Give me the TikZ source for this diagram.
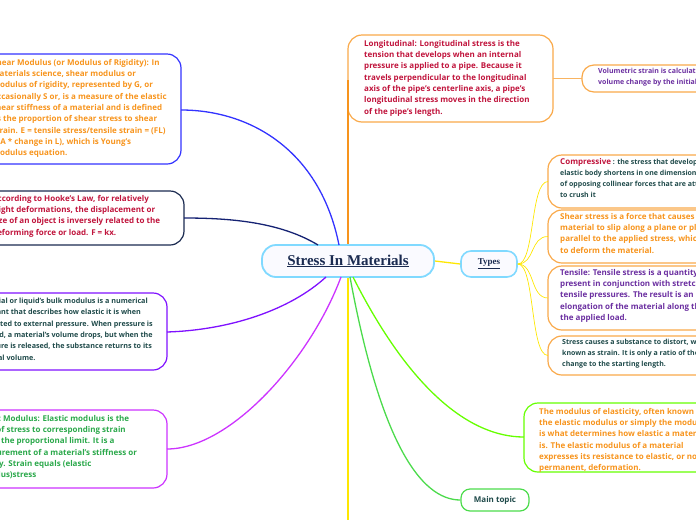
\documentclass[tikz,border=0pt]{standalone}
\usepackage{fontspec}
\setmainfont{Open Sans}
\usetikzlibrary{calc}
\definecolor{corg}{HTML}{F7941D}
\definecolor{ccrim}{HTML}{C0143C}
\definecolor{cpurp}{HTML}{6B2FA0}
\definecolor{cteal}{HTML}{1F4A4A}
\definecolor{cgreen}{HTML}{2AA84A}
\definecolor{cnavy}{HTML}{1A2A50}
\definecolor{cmag}{HTML}{CC33FF}
\definecolor{cvio}{HTML}{7F11FF}
\tikzset{
 box/.style={draw, line width=1.2pt, rounded corners=14pt, inner sep=0pt},
 txt/.style={anchor=north west, align=left, inner sep=0pt, font=\bfseries\fontsize{8}{11.3}\selectfont},
 br/.style={line width=1.3pt},
 sub/.style={line width=0.7pt},
}
\begin{document}
\begin{tikzpicture}[x=1pt,y=-1pt]
\useasboundingbox (0,0) rectangle (696,520);
\clip (0,0) rectangle (696,520);
% boxes
\draw[box, draw=blue!80] (-40,54) rectangle (181,164);
\coordinate (sbe) at (181,110);
\draw[box, draw=cnavy] (-40,191) rectangle (184,245);
\coordinate (hbe) at (184,218);
\draw[box, draw=cvio] (-40,293) rectangle (167,370);
\coordinate (bbe) at (167,332);
\draw[box, draw=cmag] (-40,410) rectangle (167,488);
\coordinate (ebe) at (167,449);
\draw[box, draw=corg!80] (348,35) rectangle (553,122);
\coordinate (lbe) at (553,78);
\draw[box, draw=corg!80, rounded corners=12pt] (582,65) rectangle (740,92);
\coordinate (vbw) at (582,78);
\foreach \a/\b/\n in {155/208/t1,210/263/t2,266/330/t3,336/375/t4}{
 \draw[box, draw=corg!80] (548,\a) rectangle (740,\b);
 \coordinate (\n) at (548,{(\a+\b)/2});
}
\draw[box, draw=green!60!yellow] (524,403) rectangle (740,472);
\coordinate (mbw) at (524,437);
\node[draw=green!80!black!70, line width=1.2pt, rounded corners=9pt, minimum width=68pt, minimum height=22pt, font=\bfseries\fontsize{8}{9}\selectfont, text=cteal] (mt) at (495,500) {Main topic};
% center
\node[draw=blue!30!cyan!50, line width=1.8pt, fill=blue!2, rounded corners=14pt, minimum width=172pt, minimum height=32pt, text=cnavy, font=\bfseries\fontsize{15}{16}\selectfont] (c) at (348,261) {\fontspec{Liberation Serif}\underline{Stress In Materials}};
\node[draw=blue!30!cyan!50, line width=1.6pt, fill=blue!2, rounded corners=10pt, minimum width=56pt, minimum height=26pt, text=cnavy, font=\bfseries\fontsize{9}{10}\selectfont] (ty) at (489,264) {\fontspec{Liberation Serif}\underline{Types}};
% connectors
\draw[br, blue!80] (339,245) .. controls (320,150) and (250,110) .. (sbe);
\draw[br, cnavy!80!blue] (318,245) .. controls (280,222) and (230,218) .. (hbe);
\draw[br, cvio] (326,277) .. controls (290,310) and (230,330) .. (bbe);
\draw[br, cmag] (341,277) .. controls (310,360) and (230,449) .. (ebe);
\draw[br, corg] (c.north) -- (348,80);
\draw[br, yellow!90!orange] (c.south) -- (348,520);
\draw[br, green!60!yellow] (353,277) .. controls (410,390) and (470,437) .. (mbw);
\draw[br, green!80!black!70] (350,277) .. controls (380,440) and (420,500) .. (mt.west);
\draw[br, yellow!90!orange] (c.east) -- (ty.west);
\draw[sub, corg!70] (lbe) -- (vbw);
\foreach \n in {t1,t2,t3,t4}{
 \draw[sub, yellow!90!orange] (ty.east) .. controls (535,264) and (530,0 |- \n) .. (\n);
}
% texts
\node[txt, text=corg] (s) at (-8,59) {Shear Modulus (or Modulus of Rigidity): In\\Materials science, shear modulus or\\modulus of rigidity, represented by G, or\\occasionally S or, is a measure of the elastic\\shear stiffness of a material and is defined\\as the proportion of shear stress to shear\\strain. E = tensile stress/tensile strain = (FL)\\/ (A * change in L), which is Young's\\modulus equation.};
\node[txt, text=ccrim] (h) at (-8,195) {According to Hooke's Law, for relatively\\slight deformations, the displacement or\\size of an object is inversely related to the\\deforming force or load. F = kx.};
\node[txt, text=cteal, font=\bfseries\fontsize{7.2}{11.3}\selectfont] (bk) at (-23,298) {Material or liquid's bulk modulus is a numerical\\constant that describes how elastic it is when\\subjected to external pressure. When pressure is\\applied, a material's volume drops, but when the\\pressure is released, the substance returns to its\\original volume.};
\node[txt, text=cgreen] (el) at (-25,415) {Elastic Modulus: Elastic modulus is the\\ratio of stress to corresponding strain\\below the proportional limit. It is a\\measurement of a material's stiffness or\\rigidity. Strain equals (elastic\\modulus)stress};
\node[txt, text=ccrim] (lo) at (364,40) {Longitudinal: Longitudinal stress is the\\tension that develops when an internal\\pressure is applied to a pipe. Because it\\travels perpendicular to the longitudinal\\axis of the pipe's centerline axis, a pipe's\\longitudinal stress moves in the direction\\of the pipe's length.};
\node[txt, text=cpurp, font=\bfseries\fontsize{7}{11}\selectfont] (vo) at (598,68) {Volumetric strain is calculated by dividing the\\volume change by the initial volume.};
\node[txt, text=cteal, font=\bfseries\fontsize{7}{11}\selectfont] (co) at (560,158) {\textcolor{ccrim}{\fontsize{8}{11}\selectfont Compressive} : the stress that develops when an\\elastic body shortens in one dimension as a result\\of opposing collinear forces that are attempting\\to crush it};
\node[txt, text=corg] (sh) at (560,213) {Shear stress is a force that causes a\\material to slip along a plane or planes\\parallel to the applied stress, which tends\\to deform the material.};
\node[txt, text=cpurp] (te) at (560,269) {Tensile: Tensile stress is a quantity\\present in conjunction with stretching or\\tensile pressures. The result is an\\elongation of the material along the axis of\\the applied load.};
\node[txt, text=cteal, font=\bfseries\fontsize{7}{11}\selectfont] (st) at (562,339) {Stress causes a substance to distort, which is\\known as strain. It is only a ratio of the\\change to the starting length.};
\node[txt, text=corg] (mo) at (539,408) {The modulus of elasticity, often known as\\the elastic modulus or simply the modulus,\\is what determines how elastic a material\\is. The elastic modulus of a material\\expresses its resistance to elastic, or non-\\permanent, deformation.};
\end{tikzpicture}
\end{document}
